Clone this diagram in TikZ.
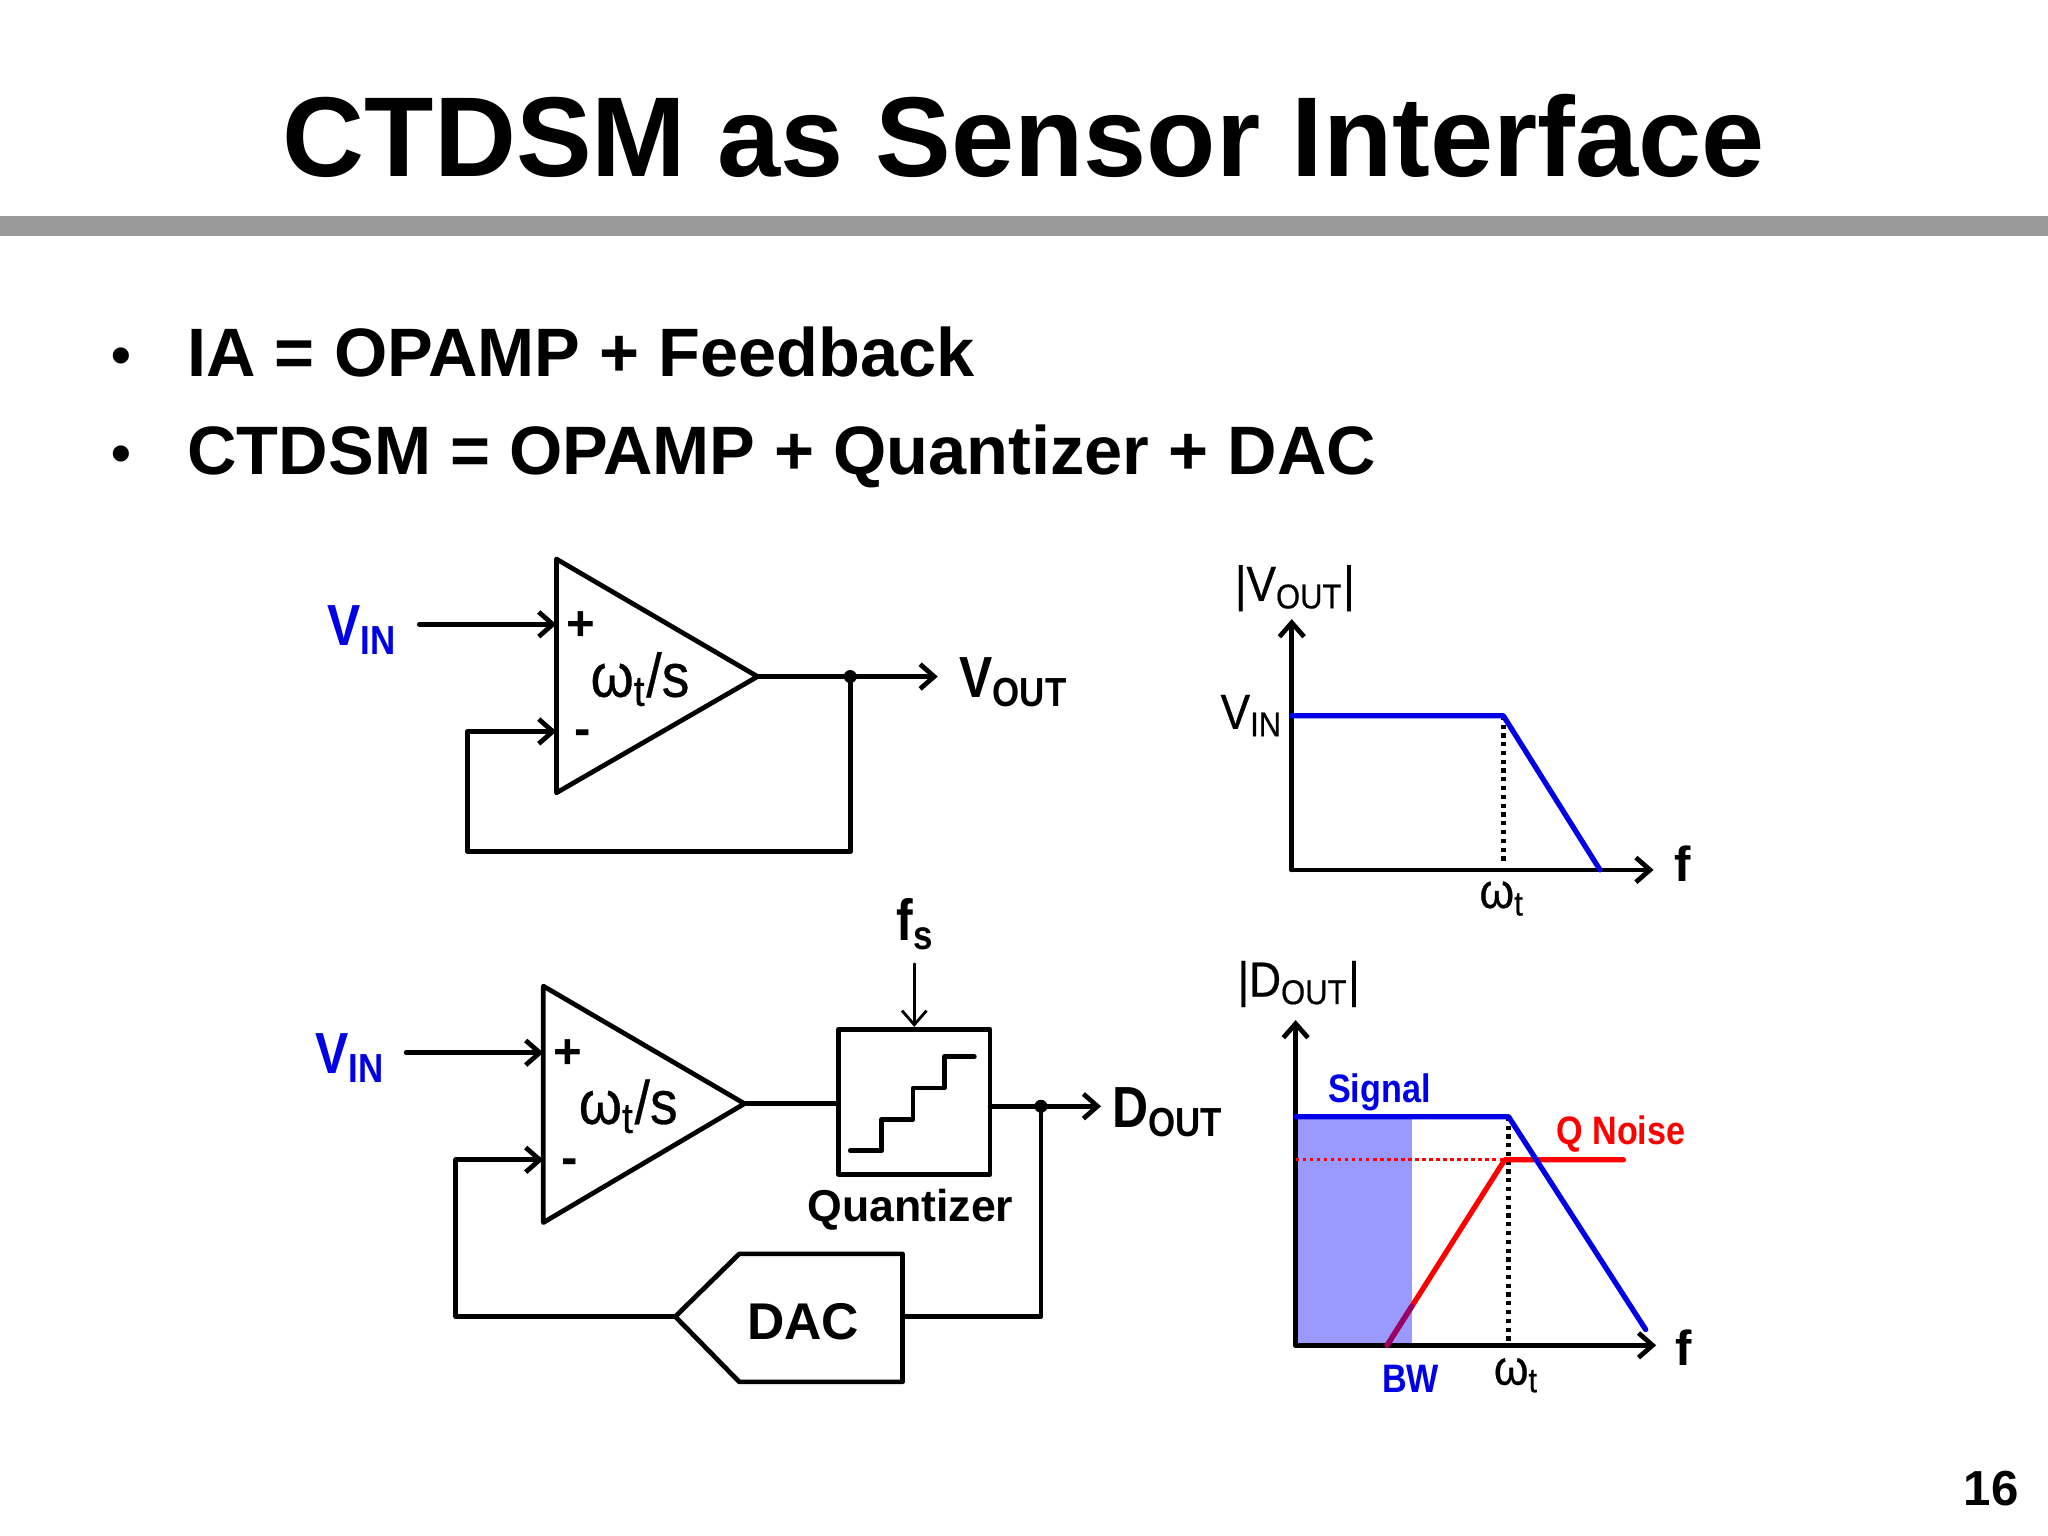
\documentclass[tikz,border=0pt]{standalone}
\usepackage{fontspec}
\setmainfont{Liberation Sans}
\newfontfamily\narrowfam[FakeStretch=0.86]{Liberation Sans}
\newfontfamily\medfam[FakeStretch=0.9,FakeBold=0.5]{Liberation Sans}
\usetikzlibrary{calc,arrows.meta}
\definecolor{barcol}{HTML}{999999}
\definecolor{sigblue}{HTML}{0000E6}
\definecolor{bandcol}{HTML}{9999FF}
\definecolor{overlap}{HTML}{990066}
\tikzset{
  wire/.style={line width=1.35pt,line cap=round,line join=round},
  sig/.style={wire,->,>={Straight Barb[length=4pt,width=7pt]}},
  thin sig/.style={sig,line width=.8pt},
  curve/.style={wire,line width=1.5pt},
  dotline/.style={line width=1.4pt,dash pattern=on 1.2pt off 1.3pt},
  txt/.style={inner sep=0pt,font=\narrowfam\bfseries\fontsize{16.5}{20}\selectfont},
  base txt/.style={txt,anchor=base west},
  small txt/.style={inner sep=0pt,font=\narrowfam\bfseries\fontsize{11.3}{14}\selectfont},
  med txt/.style={inner sep=0pt,font=\medfam\fontsize{14}{17}\selectfont},
  gain txt/.style={inner sep=0pt,font=\medfam\fontsize{17.5}{20}\selectfont},
  sign txt/.style={inner sep=0pt,font=\bfseries\fontsize{14}{17}\selectfont},
  bullet txt/.style={anchor=base,inner sep=0pt,font=\bfseries\fontsize{16}{22}\selectfont},
  line txt/.style={anchor=base west,inner sep=0pt,font=\bfseries\fontsize{19.5}{22}\selectfont},
}
\begin{document}
\begin{tikzpicture}[x=0.013061cm,y=-0.013061cm]
\useasboundingbox (0,0) rectangle (1568,1176);
%slide head
\node (title) [anchor=base,inner sep=0pt,font=\bfseries\fontsize{32.3}{36}\selectfont] at (784,135) {CTDSM as Sensor Interface};
\fill [barcol] (0,165) rectangle (1568,181);
\node (b1) [bullet txt] at (93,287) {•};
\node (b2) [bullet txt] at (93,362) {•};
\node (l1) [line txt] at (143,288) {IA = OPAMP + Feedback};
\node (l2) [line txt] at (143,363) {CTDSM = OPAMP + Quantizer + DAC};
\node (page) [anchor=base east,inner sep=0pt,font=\bfseries\fontsize{14}{18}\selectfont] at (1546,1153) {16};

%top amplifier
\coordinate (A1) at (426,428);
\coordinate (B1) at (426,607);
\coordinate (T1) at (580,518);
\draw [wire] (A1) -- (B1) -- (T1) -- cycle;
\node (vin1) [base txt,text=sigblue] at (250,494) {V\textsubscript{IN}};
\node (p1) [sign txt] at (445,479) {+};
\node (m1) [sign txt] at (446,565) {-};
\node (g1) [gain txt] at (490,520) {ω\textsubscript{t}/s};
\node (vout1) [base txt] at (734,534) {V\textsubscript{OUT}};
\coordinate (I1) at (321,478);
\coordinate (P1) at (426,478);
\coordinate (N1) at (426,560);
\coordinate (M1) at (651,518);
\coordinate (O1) at (718,518);
\coordinate (F1) at (651,652);
\coordinate (G1) at (358,652);
\coordinate (H1) at (358,560);
\draw [sig] (I1) to (P1);
\draw [sig] (T1) to (O1);
\draw [sig] (M1) -- (F1) -- (G1) -- (H1) -- (N1);
\fill (M1) circle (5);

%bottom amplifier
\coordinate (A2) at (416,755);
\coordinate (B2) at (416,936);
\coordinate (T2) at (570,845);
\draw [wire] (A2) -- (B2) -- (T2) -- cycle;
\node (vin2) [base txt,text=sigblue] at (241,822) {V\textsubscript{IN}};
\node (p2) [sign txt] at (435,807) {+};
\node (m2) [sign txt] at (436,893) {-};
\node (g2) [gain txt] at (481,847) {ω\textsubscript{t}/s};
\node (quant) [draw,wire,inner sep=0pt,minimum width=1.515cm,minimum height=1.45cm] at (700,843.5) {};
\node (qlab) [inner sep=0pt,font=\bfseries\fontsize{12.7}{16}\selectfont] at (697,926) {Quantizer};
\node (fs) [base txt] at (686,720) {f\textsubscript{s}};
\node (dout) [base txt] at (851,863) {D\textsubscript{OUT}};
\coordinate (I2) at (311,806);
\coordinate (P2) at (416,806);
\coordinate (N2) at (416,888);
\coordinate (Q1) at (642,845);
\coordinate (Q2) at (758,847);
\coordinate (M2) at (797,847);
\coordinate (O2) at (843,847);
\coordinate (C2) at (700,738);
\draw [sig] (I2) to (P2);
\draw [wire] (T2) to (Q1);
\draw [thin sig] (C2) to (quant.north);
\draw [sig] (Q2) to (O2);
%staircase
\draw [wire] (651,881) -- (675,881) -- (675,857) -- (699,857) -- (699,833) -- (723,833) -- (723,809) -- (746,809);
\coordinate (D1) at (517,1008);
\coordinate (D2) at (566,960);
\coordinate (D3) at (691,960);
\coordinate (D4) at (691,1058);
\coordinate (D5) at (566,1058);
\coordinate (D6) at (691,1008);
\draw [wire] (D1) -- (D2) -- (D3) -- (D4) -- (D5) -- cycle;
\node (dac) [inner sep=0pt,font=\bfseries\fontsize{14.7}{18}\selectfont] at (615,1012) {DAC};
\coordinate (F2) at (797,1008);
\coordinate (G2) at (349,1008);
\coordinate (H2) at (349,888);
\draw [wire] (M2) -- (F2) -- (D6);
\draw [sig] (D1) -- (G2) -- (H2) -- (N2);
\fill (M2) circle (5);

%top plot
\coordinate (O3) at (989,666);
\coordinate (Y3) at (989,474);
\coordinate (X3) at (1266,666);
\coordinate (L3) at (989,548);
\coordinate (K3) at (1151,548);
\coordinate (E3) at (1225,666);
\coordinate (W3) at (1151,662);
\draw [dotline] (K3) to (W3);
\draw [sig] (O3) to (Y3);
\draw [sig] (O3) to (X3);
\draw [curve,sigblue] (L3) -- (K3) -- (E3);
\node (mag1) [med txt,anchor=base west] at (945,460) {|V\textsubscript{OUT}|};
\node (lev1) [med txt,anchor=base west] at (934,558) {V\textsubscript{IN}};
\node (f1) [inner sep=0pt,font=\bfseries\fontsize{14}{17}\selectfont] at (1288,661) {f};
\node (w1) [med txt] at (1150,688) {ω\textsubscript{t}};

%bottom plot
\coordinate (O4) at (992,1030);
\coordinate (Y4) at (992,781);
\coordinate (X4) at (1268,1030);
\coordinate (L4) at (992,855);
\coordinate (K4) at (1155,855);
\coordinate (E4) at (1260,1018);
\coordinate (W4) at (1155,1028);
\coordinate (R1) at (1062,1030);
\coordinate (R2) at (1152,888);
\coordinate (R3) at (1243,888);
\coordinate (R4) at (992,888);
\coordinate (R5) at (1081,1000);
\fill [bandcol] (L4) rectangle (1081,1030);
\draw [dotline] (K4) to (W4);
\draw [sig] (O4) to (Y4);
\draw [sig] (O4) to (X4);
\draw [red,line width=.8pt,dash pattern=on 1pt off 1pt] (R4) to (R2);
\draw [curve,red] (R1) -- (R2) -- (R3);
\draw [curve,overlap] (R1) to (R5);
\draw [curve,sigblue] (L4) -- (K4) -- (E4);
\node (mag2) [med txt,anchor=base west] at (947,763) {|D\textsubscript{OUT}|};
\node (sig) [small txt,text=sigblue] at (1056,836) {Signal};
\node (qn) [small txt,text=red] at (1241,868) {Q Noise};
\node (bw) [small txt,text=sigblue] at (1080,1056) {BW};
\node (f2) [inner sep=0pt,font=\bfseries\fontsize{14}{17}\selectfont] at (1289,1032) {f};
\node (w2) [med txt] at (1161,1053) {ω\textsubscript{t}};
\end{tikzpicture}
\end{document}
